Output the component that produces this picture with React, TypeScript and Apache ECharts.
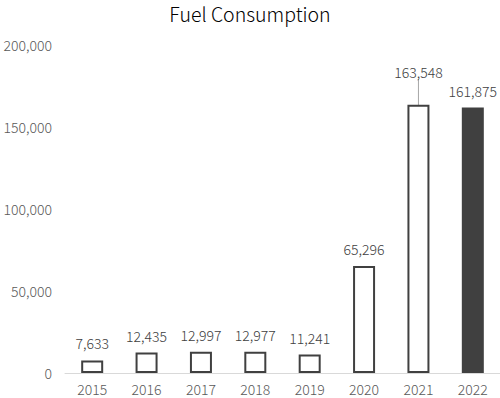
import React, { useEffect, useRef } from "react";
import * as echarts from "echarts";

const categories = ["2015", "2016", "2017", "2018", "2019", "2020", "2021", "2022"];
const values = [7633, 12435, 12997, 12977, 11241, 65296, 163548, 161875];
const highlightIndex = 7;
const leaderIndex = 6;
const title = "Fuel Consumption";

const FONT = "'Noto Sans CJK JP', 'Noto Sans', sans-serif";

export default function App() {
  const ref = useRef<HTMLDivElement>(null);
  useEffect(() => {
    if (!ref.current) return;
    const chart = echarts.init(ref.current, undefined, { renderer: "svg" });
    chart.setOption({
      animation: false,
      title: {
        text: title,
        left: "center",
        top: 0,
        padding: [4, 5, 5, 5],
        textStyle: { fontFamily: FONT, fontSize: 19.5, fontWeight: 300, color: "#000" },
      },
      grid: { left: 65, right: 0, top: 45, bottom: 25 },
      xAxis: {
        type: "category",
        data: categories,
        axisLine: { lineStyle: { color: "#d9d9d9", width: 1 } },
        axisTick: { show: false },
        axisLabel: { color: "#595959", fontFamily: FONT, fontWeight: 300, fontSize: 14, margin: 9 },
      },
      yAxis: {
        type: "value",
        min: 0,
        max: 200000,
        interval: 50000,
        splitLine: { show: false },
        axisLine: { show: false },
        axisTick: { show: false },
        axisLabel: {
          color: "#595959",
          fontFamily: FONT,
          fontWeight: 300,
          fontSize: 14,
          margin: 13,
          formatter: (v: number) => v.toLocaleString("en-US"),
        },
      },
      series: [
        {
          type: "bar",
          barWidth: 22,
          data: values.map((v, i) => ({
            value: v,
            itemStyle:
              i === highlightIndex
                ? { color: "#404040", borderColor: "#404040", borderWidth: 2 }
                : { color: "#ffffff", borderColor: "#404040", borderWidth: 2 },
            labelLine:
              i === leaderIndex ? { show: true, lineStyle: { color: "#a6a6a6", width: 1 } } : undefined,
          })),
          label: {
            show: true,
            position: "top",
            distance: 10,
            color: "#404040",
            fontFamily: FONT,
            fontWeight: 300,
            fontSize: 14,
            formatter: (p: any) => Number(p.value).toLocaleString("en-US"),
          },
          labelLine: { show: false },
          labelLayout: (p: any) => (p.dataIndex === leaderIndex ? { dy: -16 } : {}),
        },
      ],
    });
    return () => chart.dispose();
  }, []);
  return <div ref={ref} style={{ width: 500, height: 398, position: "absolute", left: 0, top: 0 }} />;
}
